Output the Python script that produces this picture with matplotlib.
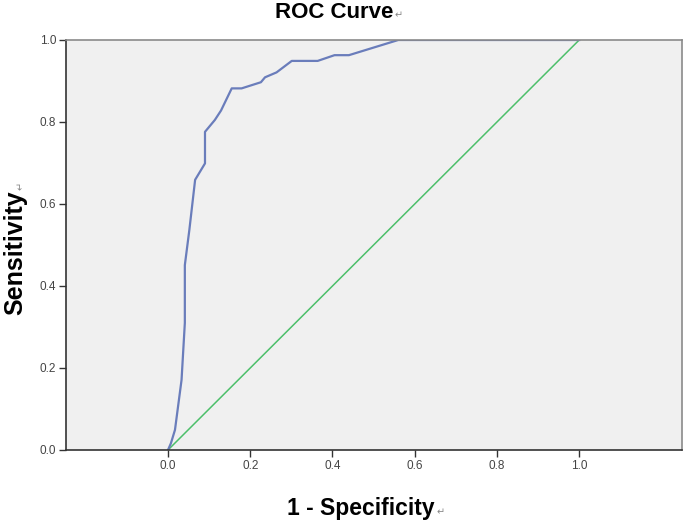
import matplotlib
matplotlib.use("Agg")
import matplotlib.pyplot as plt

# ROC curve points
fpr = [0.0, 0.007, 0.017, 0.033, 0.041, 0.041, 0.052, 0.066, 0.09, 0.09,
       0.114, 0.129, 0.155, 0.179, 0.226, 0.236, 0.264, 0.301, 0.364,
       0.405, 0.44, 0.56, 1.0]
tpr = [0.0, 0.016, 0.049, 0.171, 0.31, 0.451, 0.537, 0.659, 0.699, 0.776,
       0.805, 0.828, 0.882, 0.882, 0.897, 0.909, 0.921, 0.949, 0.949,
       0.963, 0.963, 1.0, 1.0]

ref_x = [0.0, 1.0]
ref_y = [0.0, 1.0]

ticks = [0.0, 0.2, 0.4, 0.6, 0.8, 1.0]
tick_labels = ["0.0", "0.2", "0.4", "0.6", "0.8", "1.0"]

plt.rcParams["font.family"] = ["Liberation Sans", "DejaVu Sans"]

fig = plt.figure(figsize=(6.85, 5.23), dpi=100)
ax = fig.add_axes([66 / 685, 73 / 523, 616 / 685, 410 / 523])
ax.set_facecolor("#f0f0f0")

ax.plot(ref_x, ref_y, color="#4cbf6a", lw=1.1)
ax.plot(fpr, tpr, color="#6a7dbb", lw=1.6)

ax.set_xlim(-0.248, 1.25)
ax.set_ylim(0, 1)
ax.set_xticks(ticks)
ax.set_xticklabels(tick_labels)
ax.set_yticks(ticks)
ax.set_yticklabels(tick_labels)
ax.tick_params(length=5, width=1, pad=2, labelsize=8.5,
               colors="#333333", labelcolor="#444444")

ax.spines["left"].set_color("#333333")
ax.spines["bottom"].set_color("#333333")
ax.spines["top"].set_color("#8a8a8a")
ax.spines["right"].set_color("#8a8a8a")
for s in ax.spines.values():
    s.set_linewidth(1.2)

# title and axis labels, each followed by a small return mark
fig.text(393 / 685, 1 - 18 / 523, "ROC Curve", fontsize=16,
         fontweight="bold", ha="right", va="baseline")
fig.text(395 / 685, 1 - 18 / 523, "\u21b5", fontsize=7, color="#888888",
         ha="left", va="baseline", family=["DejaVu Sans"])

fig.text(435 / 685, 1 - 515 / 523, "1 - Specificity", fontsize=16.5,
         fontweight="bold", ha="right", va="baseline")
fig.text(437 / 685, 1 - 515 / 523, "\u21b5", fontsize=7, color="#888888",
         ha="left", va="baseline", family=["DejaVu Sans"])

fig.text(15.5 / 685, 1 - 190 / 523, "Sensitivity", fontsize=18,
         fontweight="bold", rotation=90, ha="center", va="top")
fig.text(21 / 685, 1 - 190 / 523, "\u21b5", fontsize=7, color="#888888",
         rotation=90, ha="center", va="bottom", family=["DejaVu Sans"])

fig.savefig("out.png", dpi=100)
